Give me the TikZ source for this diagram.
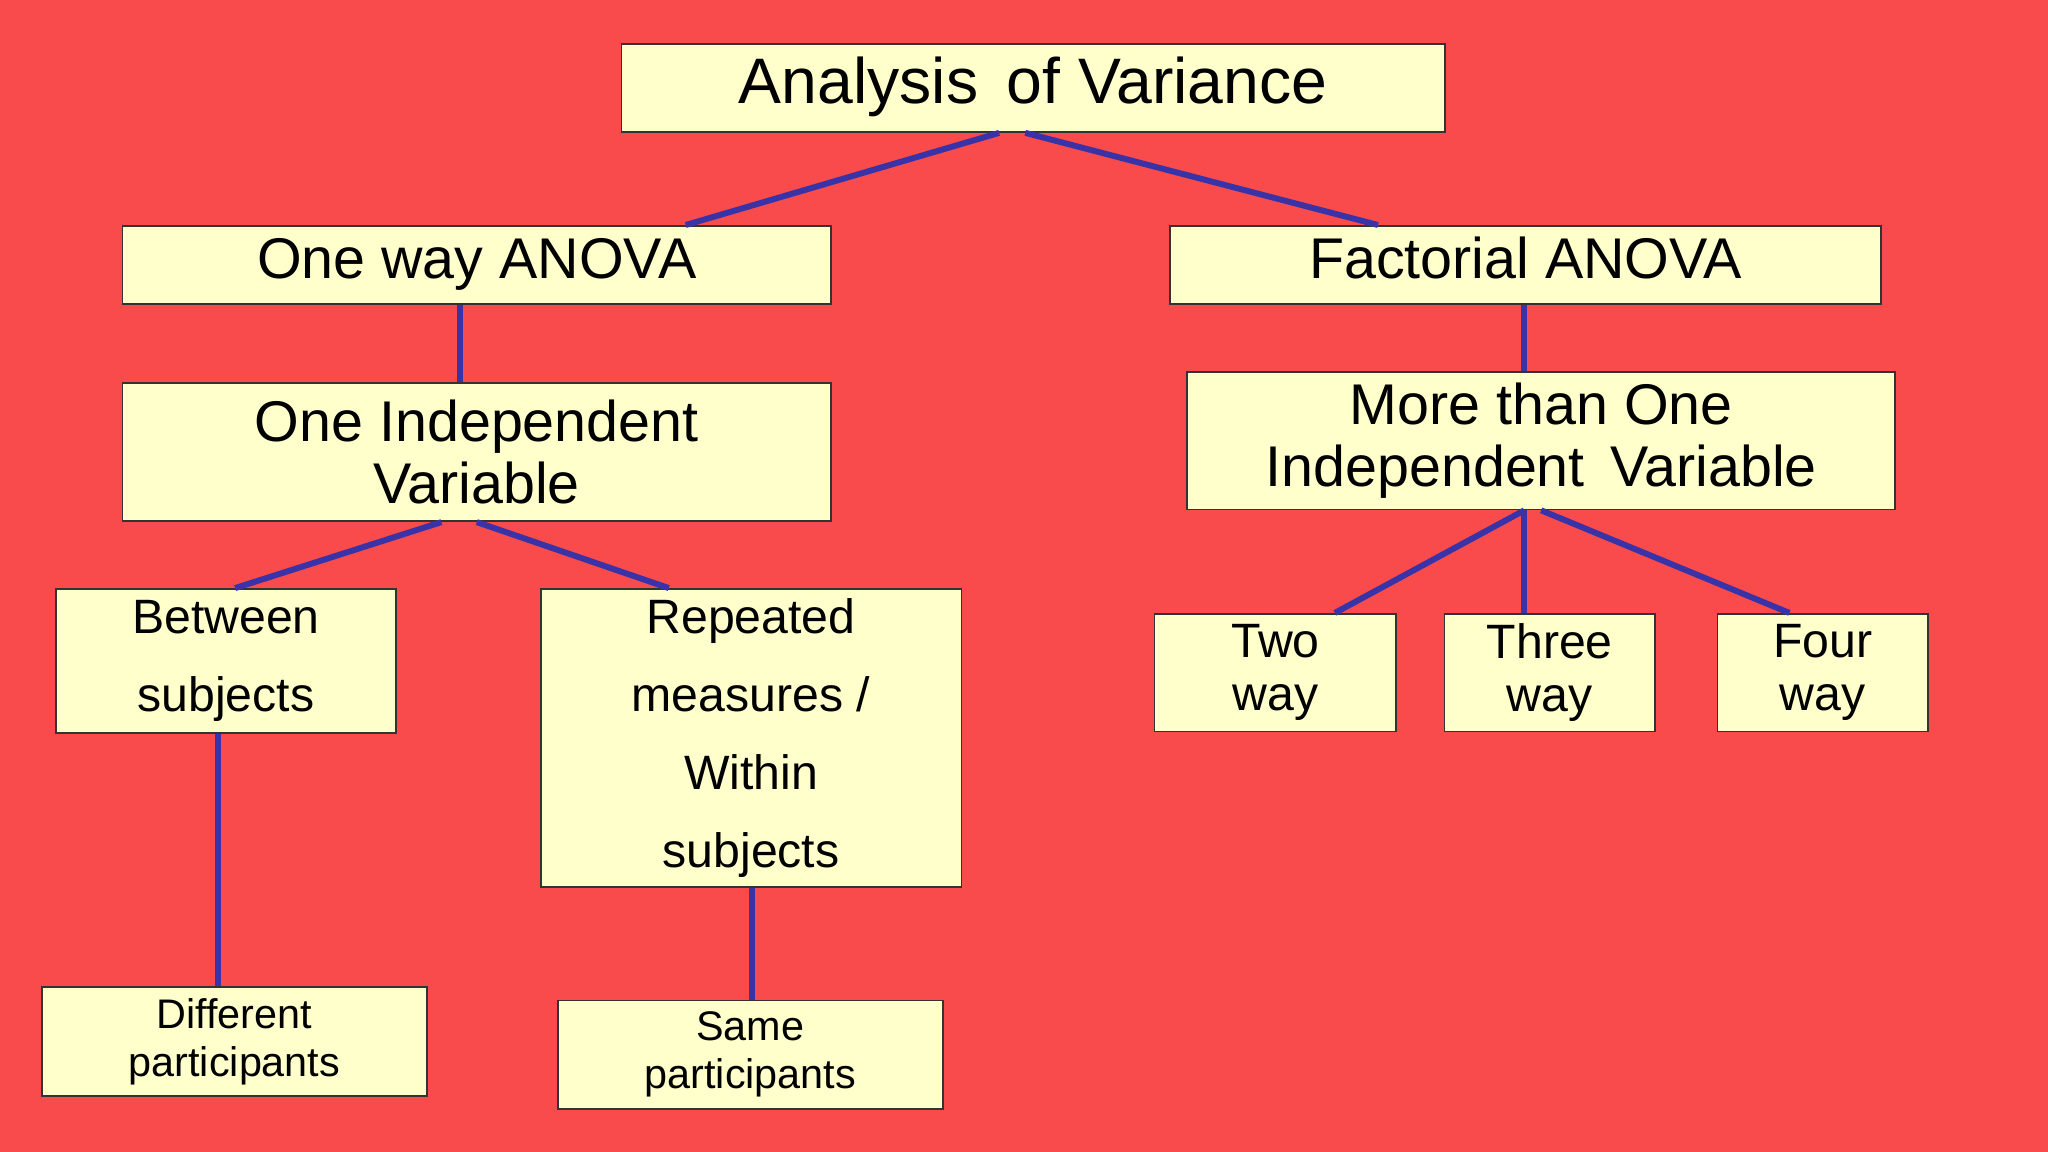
\documentclass[tikz,border=0pt]{standalone}
\usepackage{fontspec}
\setmainfont{Liberation Sans}
\usetikzlibrary{calc,positioning}
\definecolor{bgred}{HTML}{F94B4B}
\definecolor{boxyel}{HTML}{FFFFCC}
\definecolor{linkblue}{HTML}{3A33A8}
\begin{document}
\begin{tikzpicture}[x=0.01cm,y=-0.01cm,
   box/.style={draw=black!80,fill=boxyel,thin,inner sep=0pt,align=center},
   link/.style={draw=linkblue,line width=1.3pt}]
 \fill[bgred] (0,0) rectangle (1568,882);
 \node[box,minimum width=6.3cm,minimum height=0.67cm,font=\fontsize{14}{17}\selectfont] (anova) at (791,67.5) {\strut Analysis\, of Variance};
 \node[box,minimum width=5.42cm,minimum height=0.6cm,font=\fontsize{12.5}{15}\selectfont] (oneway) at (365,203) {\strut One way ANOVA};
 \node[box,minimum width=5.44cm,minimum height=0.6cm,font=\fontsize{12.5}{15}\selectfont] (fact) at (1168,203) {\strut Factorial ANOVA};
 \node[box,minimum width=5.42cm,minimum height=1.06cm,font=\fontsize{12.5}{13.5}\selectfont] (oneiv) at (365,346) {One Independent\\Variable};
 \node[box,minimum width=5.42cm,minimum height=1.05cm,font=\fontsize{12.5}{13.5}\selectfont] (moreiv) at (1180,337.5) {More than One\\Independent\, Variable};
 \node[box,minimum width=2.6cm,minimum height=1.1cm,font=\fontsize{10.5}{17}\selectfont] (between) at (173,506) {Between\\subjects};
 \node[box,minimum width=3.22cm,minimum height=2.28cm,font=\fontsize{10.5}{17}\selectfont] (repeated) at (575,565) {Repeated\\measures /\\Within\\subjects};
 \node[box,minimum width=1.85cm,minimum height=0.9cm,font=\fontsize{10.5}{11.5}\selectfont] (two) at (976.5,515) {Two\\way};
 \node[box,minimum width=1.61cm,minimum height=0.9cm,font=\fontsize{10.5}{11.5}\selectfont] (three) at (1186.5,515) {Three\\way};
 \node[box,minimum width=1.61cm,minimum height=0.9cm,font=\fontsize{10.5}{11.5}\selectfont] (four) at (1395.5,515) {Four\\way};
 \node[box,minimum width=2.95cm,minimum height=0.83cm,font=\fontsize{9}{10.5}\selectfont] (diff) at (179.5,797.5) {Different\\participants};
 \node[box,minimum width=2.95cm,minimum height=0.83cm,font=\fontsize{9}{10.5}\selectfont] (same) at (574.5,807.5) {Same\\participants};
 % connectors
 \draw[link] ($(anova.south)+(-26,0)$) -- ($(oneway.north)+(160,0)$);
 \draw[link] ($(anova.south)+(-6,0)$) -- ($(fact.north)+(-113,0)$);
 \draw[link] ($(oneway.south)+(-13,0)$) -- ($(oneiv.north)+(-13,0)$);
 \draw[link] ($(fact.south)+(-1,0)$) -- ($(moreiv.north)+(-13,0)$);
 \draw[link] ($(oneiv.south)+(-27,0)$) -- ($(between.north)+(7,0)$);
 \draw[link] (oneiv.south) -- ($(repeated.north)+(-63,0)$);
 \draw[link] ($(between.south)+(-6,0)$) -- ($(diff.north)+(-12.5,0)$);
 \draw[link] ($(repeated.south)+(1,0)$) -- ($(same.north)+(1.5,0)$);
 \draw[link] ($(moreiv.south)+(-13,0)$) -- ($(two.north)+(45.5,0)$);
 \draw[link] ($(moreiv.south)+(-13,0)$) -- ($(three.north)+(-19.5,0)$);
 \draw[link] (moreiv.south) -- ($(four.north)+(-25.5,0)$);
\end{tikzpicture}
\end{document}
